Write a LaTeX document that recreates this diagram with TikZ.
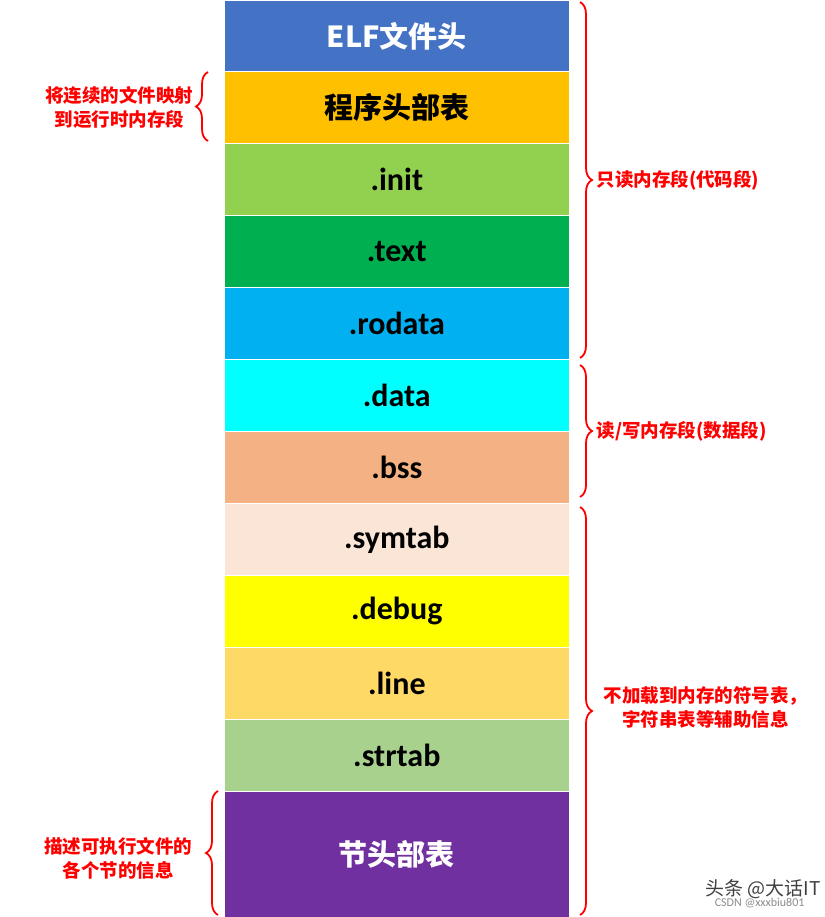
\documentclass[tikz,border=0pt]{standalone}
\usepackage{fontspec}
\setmainfont{Carlito}
\newfontfamily\cjk{Noto Sans CJK SC}
\usetikzlibrary{decorations.pathreplacing}
\definecolor{cA}{HTML}{4472C4}\definecolor{cB}{HTML}{FFC000}\definecolor{cC}{HTML}{92D050}
\definecolor{cD}{HTML}{00B050}\definecolor{cE}{HTML}{00B0F0}\definecolor{cF}{HTML}{00FFFF}
\definecolor{cG}{HTML}{F4B183}\definecolor{cH}{HTML}{FBE5D6}\definecolor{cI}{HTML}{FFFF00}
\definecolor{cJ}{HTML}{FFD966}\definecolor{cK}{HTML}{A9D18E}\definecolor{cL}{HTML}{7030A0}
\definecolor{lred}{HTML}{FF0000}
\begin{document}
\begin{tikzpicture}[x=1pt,y=-1pt,
  seg/.style={draw=white,line width=0.6pt,minimum width=345pt,inner sep=0pt,font=\bfseries\fontsize{32}{34}\selectfont,anchor=north west},
  br/.style={draw=lred,line width=1.8pt,decorate,decoration={brace,amplitude=12pt}},
  lab/.style={text=lred,font=\cjk\bfseries\fontsize{18.5}{24}\selectfont,align=center}]
\useasboundingbox (0,0) rectangle (824,917);
\fill[white] (0,0) rectangle (824,917);
\node[seg,fill=cA,text=white,minimum height=71pt] (s1) at (224,0) {\cjk\bfseries\fontsize{29}{32}\selectfont ELF文件头};
\node[seg,fill=cB,minimum height=72pt] (s2) at (224,71) {\cjk\bfseries\fontsize{29}{32}\selectfont 程序头部表};
\node[seg,fill=cC,minimum height=72pt] (s3) at (224,143) {.init};
\node[seg,fill=cD,minimum height=72pt] (s4) at (224,215) {.text};
\node[seg,fill=cE,minimum height=72pt] (s5) at (224,287) {.rodata};
\node[seg,fill=cF,minimum height=72pt] (s6) at (224,359) {.data};
\node[seg,fill=cG,minimum height=72pt] (s7) at (224,431) {.bss};
\node[seg,fill=cH,minimum height=72pt] (s8) at (224,503) {.symtab};
\node[seg,fill=cI,minimum height=72pt] (s9) at (224,575) {.debug};
\node[seg,fill=cJ,minimum height=72pt] (s10) at (224,647) {.line};
\node[seg,fill=cK,minimum height=72pt] (s11) at (224,719) {.strtab};
\node[seg,fill=cL,text=white,minimum height=126pt] (s12) at (224,791) {\cjk\bfseries\fontsize{29}{32}\selectfont 节头部表};
\coordinate (a1) at (580,2);\coordinate (a2) at (580,358);
\draw[br] (a1) -- (a2);
\node[lab,anchor=west] (l1) at (593,180) {只读内存段(代码段)};
\coordinate (b1) at (580,365);\coordinate (b2) at (580,497);
\draw[br] (b1) -- (b2);
\node[lab,anchor=west] (l2) at (593,431) {读/写内存段(数据段)};
\coordinate (c1) at (580,507);\coordinate (c2) at (580,915);
\draw[br] (c1) -- (c2);
\node[lab,anchor=west] (l3) at (600,707) {不加载到内存的符号表，\\字符串表等辅助信息};
\coordinate (d1) at (208,141);\coordinate (d2) at (208,72);
\draw[br] (d1) -- (d2);
\node[lab,anchor=east] (l4) at (197,107) {将连续的文件映射\\到运行时内存段};
\coordinate (e1) at (218,915);\coordinate (e2) at (218,791);
\draw[br] (e1) -- (e2);
\node[lab,anchor=east] (l5) at (196,858) {描述可执行文件的\\各个节的信息};
\node[anchor=east,font=\cjk\fontsize{19}{20}\selectfont,text=black!75] (w1) at (824,889) {头条 @大话IT};
\node[anchor=east,font=\fontsize{12}{12}\selectfont,text=black!45] (w2) at (808,903) {CSDN @xxxbiu801};
\end{tikzpicture}
\end{document}
